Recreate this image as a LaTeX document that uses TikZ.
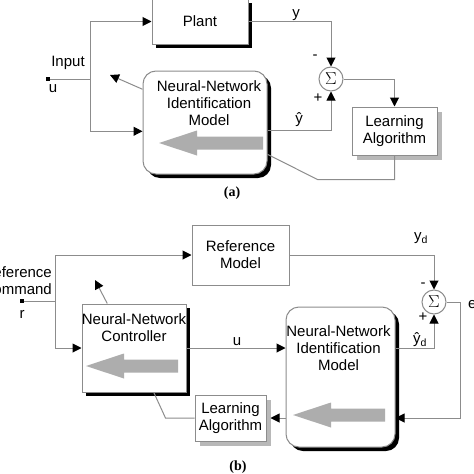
\documentclass[tikz,border=0pt]{standalone}
\usepackage{fontspec}
\setmainfont{Liberation Sans}
\newfontfamily\capfont{Liberation Serif}
\usetikzlibrary{positioning,arrows.meta,shadows}
\definecolor{linegray}{gray}{0.55}
\definecolor{fillgray}{gray}{0.68}
\definecolor{shadegray}{gray}{0.72}

\begin{document}
\begin{tikzpicture}[x=1pt, y=-1pt, font=\fontsize{15}{17}\selectfont,
    arrow/.style={draw=linegray, line width=1pt, -{Triangle[length=9pt,width=9pt,color=black]}},
    line/.style={draw=linegray, line width=1pt},
    box/.style={draw=linegray, fill=white, line width=1pt, rectangle, align=center},
    darkbox/.style={box, drop shadow={shadow xshift=4pt, shadow yshift=-4pt, fill=black, opacity=1}},
    roundbox/.style={darkbox, rounded corners=13pt},
    lightbox/.style={box, drop shadow={shadow xshift=5pt, shadow yshift=-5pt, fill=shadegray, opacity=1}},
    sum/.style={circle, draw=linegray, line width=1pt, fill=white, minimum size=24pt, inner sep=0pt, font=\fontsize{16}{16}\selectfont},
    dot/.style={rectangle, fill=black, minimum size=4pt, inner sep=0pt},
    lbl/.style={inner sep=1pt},
    caption/.style={font=\capfont\bfseries\fontsize{14}{14}\selectfont}]

    \useasboundingbox (0,0) rectangle (474,474);

    % (a) identification
    \node [darkbox, minimum width=96pt, minimum height=45pt] (plant) at (200,21.5) {Plant};
    \node [roundbox, minimum width=124pt, minimum height=103pt] (ida) at (205,122.5) {};
    \node [below=7pt of ida.north, xshift=4pt, align=center] (idatext) {Neural-Network\\Identification\\Model};
    \node [sum] (suma) at (331,79) {$\Sigma$};
    \node [lightbox, minimum width=85pt, minimum height=48pt] (learna) at (394.5,131) {Learning\\Algorithm};
    \node [dot] (udot) at (48,79) {};
    \coordinate (ja) at (90,79);
    \coordinate (adja) at (110,75);

    \node [lbl] (input) at (68,63) {Input};
    \node [lbl] (ulbl) at (53,89) {u};
    \node [lbl] (ya) at (296,15) {y};
    \node [lbl] (yhata) at (299,120) {ŷ};
    \node [lbl] (minusa) at (315,57) {-};
    \node [lbl] (plusa) at (318,98) {+};
    \node [caption] (capa) at (232,193) {(a)};

    \draw[line] (udot) -- (ja);
    \draw[arrow] (ja) |- (plant.west);
    \draw[arrow] (ja) |- (ida.188);
    \draw[arrow] (ida.152) -- (adja);
    \draw[arrow] (plant.east) -| (suma.north);
    \draw[arrow] (ida.-7) -| (suma.south);
    \draw[arrow] (suma.east) -| (learna.north);
    \draw[line] (learna.south) -- ++(0,24) -- ++(-77,0) -- (ida.-27);

    % (b) control
    \node [box, minimum width=97pt, minimum height=60pt] (refm) at (240.5,255) {Reference\\Model};
    \node [darkbox, minimum width=104pt, minimum height=88pt] (ctrl) at (134,348) {};
    \node [below=7pt of ctrl.north, align=center] (ctrltext) {Neural-Network\\Controller};
    \node [roundbox, minimum width=109pt, minimum height=140pt] (idb) at (340.5,377) {};
    \node [below=16pt of idb.north, xshift=-2pt, align=center] (idbtext) {Neural-Network\\Identification\\Model};
    \node [sum] (sumb) at (434,302) {$\Sigma$};
    \node [lightbox, minimum width=71pt, minimum height=46pt] (learnb) at (230.5,418) {Learning\\Algorithm};
    \node [dot] (rdot) at (22,301) {};
    \coordinate (jb) at (55,301);
    \coordinate (adjb) at (95,280);
    \coordinate (eb) at (460,418);

    \node [lbl, anchor=east, align=right] (refcmd) at (53,281) {Reference\\command};
    \node [lbl] (rlbl) at (22,314) {r};
    \node [lbl] (ulblb) at (237,342) {u};
    \node [lbl] (yd) at (421,238) {y\textsubscript{d}};
    \node [lbl] (yhatd) at (420,340) {ŷ\textsubscript{d}};
    \node [lbl] (minusb) at (423,285) {-};
    \node [lbl] (plusb) at (423,317) {+};
    \node [lbl, anchor=west] (elbl) at (467,305) {e};
    \node [caption] (capb) at (238,467) {(b)};

    \draw[line] (rdot) -- (jb);
    \draw[arrow] (jb) |- (refm.west);
    \draw[arrow] (jb) |- (ctrl.west);
    \draw[arrow] (ctrl.121) -- (adjb);
    \draw[arrow] (ctrl.east) -- (ctrl.east -| idb.west);
    \draw[arrow] (refm.east) -| (sumb.north);
    \draw[arrow] (ctrl.east -| idb.east) -| (sumb.south);
    \draw[arrow] (sumb.east) -| (eb) -- (eb -| idb.east);
    \draw[arrow] (learnb.east -| idb.west) -- ([xshift=4pt]learnb.east);
    \draw[line] (learnb.west) -- ++(-29,0) -- (ctrl.-66);

    % big gray arrows inside the networks
    \foreach \tip/\tail/\yy in {159/263/143, 86/178/366, 293/385/415}
        \fill[fillgray] (\tail,\yy-6.5) -- (\tip+38,\yy-6.5) -- (\tip+38,\yy-12.5) -- (\tip,\yy)
            -- (\tip+38,\yy+12.5) -- (\tip+38,\yy+6.5) -- (\tail,\yy+6.5) -- cycle;

\end{tikzpicture}
\end{document}
